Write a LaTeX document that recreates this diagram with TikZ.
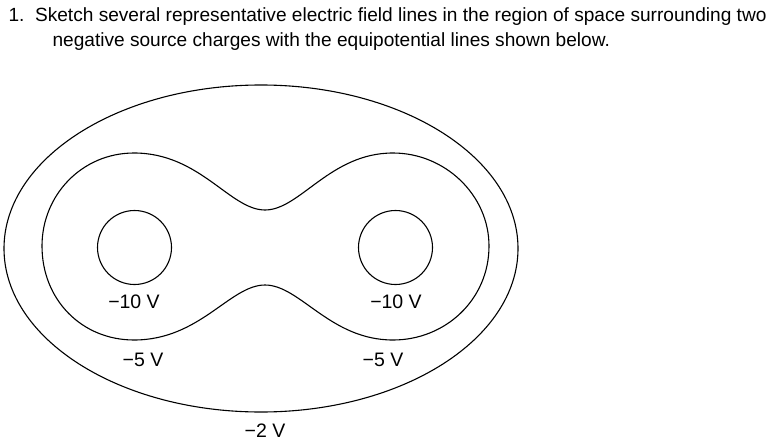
\documentclass[tikz,border=0pt]{standalone}
\usepackage{fontspec}
\setmainfont{Liberation Sans}
\begin{document}
\begin{tikzpicture}[x=1pt,y=-1pt,line width=1.1pt,
  lbl/.style={font=\fontsize{19.5}{22}\selectfont,inner sep=0pt},
  ttl/.style={font=\fontsize{19.1}{22}\selectfont,inner sep=0pt,anchor=west}]
\useasboundingbox (0,0) rectangle (776,444);
\node[ttl] (t1) at (8,17) {1.\ \ Sketch several representative electric field lines in the region of space surrounding two};
\node[ttl] (t2) at (52,42) {negative source charges with the equipotential lines shown below.};
\draw (261,248.5) ellipse [x radius=257, y radius=163.5];
\draw (265,210) .. controls (300,210) and (330,153) .. (393,153)
  .. controls (445,153) and (489,195) .. (489,246)
  .. controls (489,300) and (445,340) .. (393,340)
  .. controls (330,340) and (300,285) .. (265,285)
  .. controls (230,285) and (200,340) .. (134,340)
  .. controls (82,340) and (42,300) .. (42,246)
  .. controls (42,195) and (82,153) .. (134,153)
  .. controls (200,153) and (230,210) .. (265,210) -- cycle;
\draw (134.5,247.5) circle [radius=37];
\draw (395.5,247.5) circle [radius=37];
\node[lbl] (a) at (134,302) {\textminus10 V};
\node[lbl] (b) at (396,302) {\textminus10 V};
\node[lbl] (c) at (143,360) {\textminus5 V};
\node[lbl] (d) at (383,360) {\textminus5 V};
\node[lbl] (e) at (265,431) {\textminus2 V};
\end{tikzpicture}
\end{document}
